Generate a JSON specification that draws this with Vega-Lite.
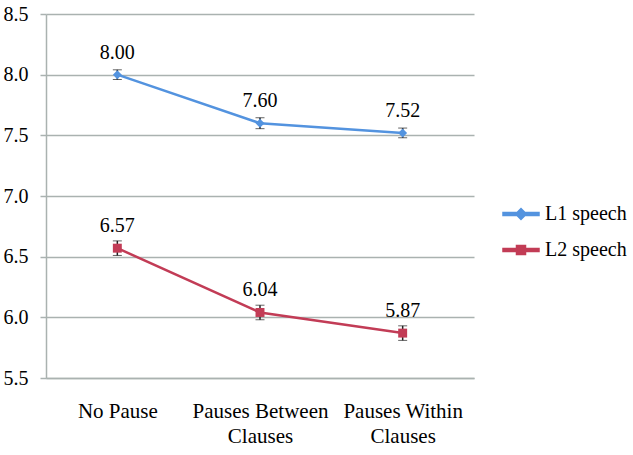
{
  "$schema": "https://vega.github.io/schema/vega-lite/v6.json",
  "autosize": "none",
  "width": 428,
  "height": 364,
  "padding": {"left": 46, "top": 14, "right": 159, "bottom": 77},
  "background": "white",
  "config": {
    "font": "Liberation Serif, Times New Roman, Times, DejaVu Serif, Noto Serif, serif",
    "view": {"stroke": null}
  },
  "data": {
    "values": [
      {"condition": "No Pause", "speaker": "L1 speech", "score": 8.00, "err": 0.04},
      {"condition": "Pauses Between Clauses", "speaker": "L1 speech", "score": 7.60, "err": 0.045},
      {"condition": "Pauses Within Clauses", "speaker": "L1 speech", "score": 7.52, "err": 0.04},
      {"condition": "No Pause", "speaker": "L2 speech", "score": 6.57, "err": 0.06},
      {"condition": "Pauses Between Clauses", "speaker": "L2 speech", "score": 6.04, "err": 0.06},
      {"condition": "Pauses Within Clauses", "speaker": "L2 speech", "score": 5.87, "err": 0.06}
    ]
  },
  "encoding": {
    "x": {
      "field": "condition", "type": "nominal", "sort": null,
      "scale": {"type": "point", "padding": 0.5},
      "axis": {
        "title": null, "labelAngle": 0, "ticks": false, "domain": true, "domainColor": "#aab2b0", "domainWidth": 1.5,
        "labelFontSize": 21, "labelColor": "#000", "labelPadding": 22, "labelLineHeight": 25,
        "labelExpr": "split(replace(datum.label, ' Clauses', '|Clauses'), '|')"
      }
    },
    "y": {
      "field": "score", "type": "quantitative",
      "scale": {"domain": [5.5, 8.5], "nice": false, "zero": false},
      "axis": {
        "title": null, "values": [5.5, 6, 6.5, 7, 7.5, 8, 8.5], "format": ".1f",
        "grid": true, "gridColor": "#aab2b0", "gridWidth": 1.5,
        "domainColor": "#aab2b0", "domainWidth": 1.5,
        "tickColor": "#aab2b0", "tickSize": 6, "tickWidth": 1.5,
        "labelFontSize": 20, "labelColor": "#000", "labelPadding": 12
      }
    }
  },
  "layer": [
    {
      "transform": [{"filter": "false"}],
      "mark": {"type": "point", "filled": true, "opacity": 1},
      "encoding": {
        "color": {"field": "speaker", "type": "nominal",
          "scale": {"domain": ["L1 speech", "L2 speech"], "range": ["#5393df", "#c23c56"]},
          "legend": {
            "title": null, "orient": "none", "legendX": 456, "legendY": 181,
            "symbolSize": 1296, "rowPadding": 7, "labelOffset": 5,
            "labelFontSize": 20, "labelColor": "#000"
          }
        },
        "shape": {
          "field": "speaker", "type": "nominal",
          "scale": {"domain": ["L1 speech", "L2 speech"], "range": [
            "M-1,-0.08H1V0.08H-1Z M-0.3,0L0,-0.3L0.3,0L0,0.3Z",
            "M-1,-0.08H1V0.08H-1Z M-0.25,-0.25H0.25V0.25H-0.25Z"
          ]},
          "legend": {
            "title": null, "orient": "none", "legendX": 456, "legendY": 181,
            "symbolSize": 1296, "rowPadding": 7, "labelOffset": 5,
            "labelFontSize": 20, "labelColor": "#000"
          }
        }
      }
    },
    {
      "mark": {"type": "line", "strokeWidth": 2.5},
      "encoding": {
        "color": {"field": "speaker", "type": "nominal"}
      }
    },
    {
      "mark": {"type": "errorbar", "ticks": {"size": 9, "color": "#222", "strokeWidth": 1.5}, "rule": {"color": "#222", "strokeWidth": 1.5}},
      "encoding": {
        "yError": {"field": "err"}
      }
    },
    {
      "mark": {"type": "point", "filled": true, "opacity": 1},
      "encoding": {
        "color": {"field": "speaker", "type": "nominal"},
        "shape": {"condition": {"test": "datum.speaker === 'L1 speech'", "value": "diamond"}, "value": "square"},
        "size": {"value": 80}
      }
    },
    {
      "mark": {"type": "text", "fontSize": 20, "dy": -22, "baseline": "middle", "color": "#000"},
      "encoding": {
        "text": {"field": "score", "type": "quantitative", "format": ".2f"}
      }
    }
  ]
}
